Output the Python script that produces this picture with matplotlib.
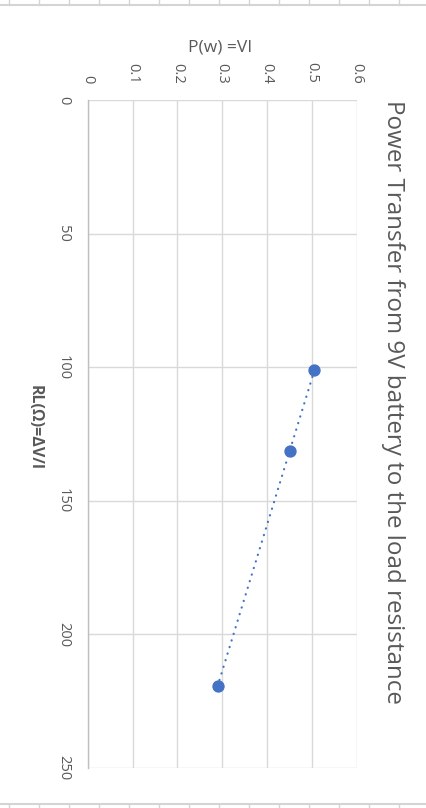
import matplotlib
matplotlib.use("Agg")
import matplotlib.pyplot as plt
from matplotlib.lines import Line2D
import numpy as np

rl_ohm = [101.2, 131.5, 219.3]       # RL(Ω)=ΔV/I
power_w = [0.5055, 0.4506, 0.290]    # P(w) =VI

p_ticks = [0, 0.1, 0.2, 0.3, 0.4, 0.5, 0.6]
rl_ticks = [0, 50, 100, 150, 200, 250]

TITLE = "Power Transfer from 9V battery to the load resistance"
BLUE = "#4472C4"
GREY_TXT = "#595959"

plt.rcParams['font.family'] = ['Open Sans', 'DejaVu Sans']

W, H = 426, 808
fig = plt.figure(figsize=(W / 100, H / 100), dpi=100)
fig.patch.set_facecolor("white")

# plot area in pixels: x 87.7..356.7, y 100..767.7
ax = fig.add_axes([87.7 / W, 1 - 767.7 / H, (356.7 - 87.7) / W, (767.7 - 100) / H])

ax.scatter(power_w, rl_ohm, s=62, color=BLUE, zorder=4)

# linear trendline (Excel style), from first to last point
fit = np.polyfit(rl_ohm, power_w, 1)
rl_line = np.linspace(min(rl_ohm), max(rl_ohm), 50)
ax.plot(np.polyval(fit, rl_line), rl_line, linestyle=(0, (0.1, 3.0)),
        color=BLUE, linewidth=1.6, dash_capstyle="round", zorder=3)

ax.set_xlim(0, 0.6)
ax.set_ylim(250, 0)
ax.set_xticks(p_ticks)
ax.set_xticklabels([f"{t:g}" for t in p_ticks])
ax.set_yticks(rl_ticks)
ax.set_yticklabels([str(t) for t in rl_ticks])
ax.xaxis.tick_top()
ax.grid(True, color="#d9d9d9", linewidth=1.0)
ax.set_axisbelow(True)
for side in ["top", "right", "bottom"]:
    ax.spines[side].set_visible(False)
ax.spines["left"].set_color("#bfbfbf")
ax.spines["left"].set_linewidth(1.0)

ax.tick_params(axis="both", length=0, colors=GREY_TXT, labelsize=10.5)
ax.tick_params(axis="x", pad=12)
ax.tick_params(axis="y", pad=12)
for lbl in ax.get_xticklabels():
    lbl.set_rotation(-90)
    lbl.set_va("bottom")
    lbl.set_ha("center")
for lbl in ax.get_yticklabels():
    lbl.set_rotation(-90)
    lbl.set_va("center")
    lbl.set_ha("right")

# axis titles and chart title
fig.text(220 / W, 1 - 47 / H, "P(w) =VI", ha="center", va="center",
         fontsize=12.5, color=GREY_TXT)
fig.text(35 / W, 1 - 428 / H, "RL(Ω)=ΔV/I", ha="center", va="center",
         rotation=-90, fontsize=11.5, fontweight="bold", color=GREY_TXT)
fig.text(393 / W, 1 - 402 / H, TITLE, ha="center", va="center",
         rotation=-90, fontsize=17.4, color=GREY_TXT)

# spreadsheet cell borders peeking in at top and bottom
cell_col = "#d4d4d4"
fig.add_artist(Line2D([0, 1], [1 - 5 / H] * 2, transform=fig.transFigure,
                      color=cell_col, linewidth=1.5))
fig.add_artist(Line2D([0, 1], [1 - 804 / H] * 2, transform=fig.transFigure,
                      color=cell_col, linewidth=1.5))
for xpx in np.arange(9.3, W, 30):
    fig.add_artist(Line2D([xpx / W] * 2, [1, 1 - 5 / H], transform=fig.transFigure,
                          color=cell_col, linewidth=1.0))
    fig.add_artist(Line2D([xpx / W] * 2, [1 - 804 / H, 0], transform=fig.transFigure,
                          color=cell_col, linewidth=1.0))

fig.savefig("out.png", dpi=100)
